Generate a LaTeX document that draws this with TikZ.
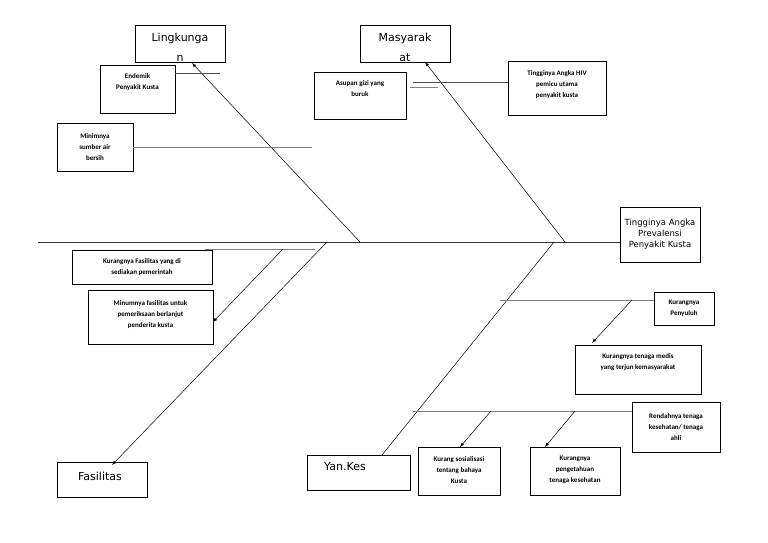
\documentclass[tikz,border=0pt]{standalone}
\usepackage{fontspec}
\setmainfont{DejaVu Sans}
\newfontfamily\smallf{Carlito}
\begin{document}
\begin{tikzpicture}[x=1pt,y=-1pt,
  box/.style={draw,line width=0.5pt},
  sm/.style={font=\smallf\bfseries\fontsize{7}{11}\selectfont,align=center},
  big/.style={font=\fontsize{11}{13}\selectfont},
  bone/.style={line width=0.5pt},
  arr/.style={line width=0.5pt,-latex},
  gl/.style={draw=gray,line width=0.6pt}]
\useasboundingbox (0,0) rectangle (768,543);
% effect
\draw[box] (620,207) rectangle (700,262);
\node[font=\fontsize{8.5}{11}\selectfont,align=center] (eff) at (660,234) {Tingginya Angka\\Prevalensi\\Penyakit Kusta};
\coordinate (sL) at (38,242); \coordinate (sR) at (620,242);
\draw[bone,draw=black!80] (sL) -- (sR);
% Lingkungan
\draw[box] (135,25) rectangle (225,62);
\begin{scope}
\clip (135,25) rectangle (225,62);
\node[big] (ling) at (180,38) {Lingkunga};
\node[big] at (180,58) {n};
\end{scope}
\coordinate (lb) at (360,242); \coordinate (lt) at (192,63);
\draw[arr] (lb) -- (lt);
\draw[box] (100,65) rectangle (175,113);
\node[sm] (end) at (137.5,82) {Endemik\\Penyakit Kusta};
\coordinate (e1) at (175,73); \coordinate (e2) at (220,73);
\draw[gl,draw=black!70] (e1) -- (e2);
\draw[box] (57,123) rectangle (133,171);
\node[sm] (min) at (95,147) {Minimnya\\sumber air\\bersih};
\coordinate (m1) at (133,147); \coordinate (m2) at (312,147);
\draw[gl] (m1) -- (m2);
% Masyarakat
\draw[box] (360,25) rectangle (450,62);
\begin{scope}
\clip (360,25) rectangle (450,62);
\node[big] (mas) at (405,38) {Masyarak};
\node[big] at (405,58) {at};
\end{scope}
\coordinate (mb) at (565,242); \coordinate (mt) at (425,62);
\draw[arr] (mb) -- (mt);
\draw[box] (314,72) rectangle (406,119);
\node[sm] (asu) at (360,89) {Asupan gizi yang\\buruk};
\draw[box] (508,61) rectangle (606,115);
\node[sm] (hiv) at (557,85) {Tingginya Angka HIV\\pemicu utama\\penyakit kusta};
\coordinate (h1) at (413,82); \coordinate (h2) at (508,82);
\draw[gl,draw=black!70] (h1) -- (h2);
\coordinate (h3) at (410,87); \coordinate (h4) at (438,87);
\draw[gl] (h3) -- (h4);
% Fasilitas
\draw[box] (72,250) rectangle (212,284);
\node[sm] (kf) at (142,267) {Kurangnya Fasilitas yang di\\sediakan pemerintah};
\coordinate (f1) at (205,249); \coordinate (f2) at (315,249);
\draw[gl] (f1) -- (f2);
\coordinate (fa) at (283,249); \coordinate (fb) at (213,322);
\draw[arr] (fa) -- (fb);
\draw[box] (88,290) rectangle (213,344);
\node[sm] (mf) at (150.5,315) {Minumnya fasilitas untuk\\pemeriksaan berlanjut\\penderita kusta};
\coordinate (fsb) at (327,242); \coordinate (fst) at (112,465);
\draw[arr] (fsb) -- (fst);
\draw[box] (57,462) rectangle (147,497);
\node[big] (fas) at (100,476) {Fasilitas};
% Yan.Kes
\draw[box] (307,455) rectangle (410,490);
\node[big] (yk) at (345,467) {Yan.Kes};
\coordinate (yb) at (554,242); \coordinate (yt) at (382,455);
\draw[bone] (yb) -- (yt);
\draw[box] (654,292) rectangle (714,325);
\node[sm] (pen) at (684,308) {Kurangnya\\Penyuluh};
\coordinate (p1) at (500,300); \coordinate (p2) at (654,300);
\draw[gl] (p1) -- (p2);
\coordinate (pa) at (632,300); \coordinate (pb) at (592,343);
\draw[arr] (pa) -- (pb);
\draw[box] (575,345) rectangle (701,394);
\node[sm] (med) at (638,362) {Kurangnya tenaga medis\\yang terjun kemasyarakat};
\coordinate (r1) at (413,411); \coordinate (r2) at (632,411);
\draw[gl] (r1) -- (r2);
\draw[box] (632,402) rectangle (720,452);
\node[sm] (ren) at (676,427) {Rendahnya tenaga\\kesehatan/ tenaga\\ahli};
\coordinate (ra) at (491,411); \coordinate (rb) at (460,447);
\draw[arr] (ra) -- (rb);
\coordinate (rc) at (575,411); \coordinate (rd) at (545,447);
\draw[arr] (rc) -- (rd);
\draw[box] (418,447) rectangle (500,495);
\node[sm] (sos) at (459,470) {Kurang sosialisasi\\tentang bahaya\\Kusta};
\draw[box] (530,447) rectangle (620,495);
\node[sm] (pgt) at (575,470) {Kurangnya\\pengetahuan\\tenaga kesehatan};
\end{tikzpicture}
\end{document}
